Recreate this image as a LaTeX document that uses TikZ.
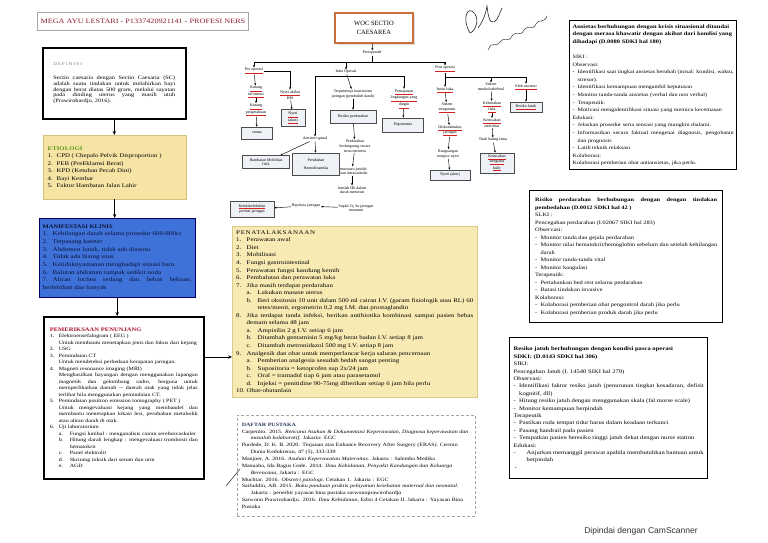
\documentclass[tikz,border=0pt]{standalone}
\usepackage{fontspec}
\setmainfont{Liberation Serif}
\setsansfont{Liberation Sans}
\newfontfamily\boxfont{Liberation Serif}[FakeStretch=1.22]
\usepackage{xcolor}
\usetikzlibrary{positioning,arrows.meta,calc,shadows}

\definecolor{namered}{HTML}{8E1B2E}
\definecolor{etioyellow}{HTML}{F5E4A4}
\definecolor{etioline}{HTML}{D8C27A}
\definecolor{etiogreen}{HTML}{5E9A1A}
\definecolor{manblue}{HTML}{3F72D8}
\definecolor{mantext}{HTML}{0B1238}
\definecolor{pemred}{HTML}{A8142E}
\definecolor{tatayellow}{HTML}{F7EAB3}
\definecolor{tataline}{HTML}{DCC98C}
\definecolor{wocbrown}{HTML}{C8703C}
\definecolor{wocfill}{HTML}{EEF2F6}
\definecolor{spellred}{HTML}{D42020}
\definecolor{pustakablue}{HTML}{2B3C5C}

\newcommand{\fs}[2]{\fontsize{#1}{#2}\selectfont}
\newcommand{\ru}[1]{\textcolor{spellred}{\underline{\textcolor{black}{#1}}}}
\newlength{\numw}\setlength{\numw}{9pt}
\newlength{\subw}\setlength{\subw}{10pt}
\newcommand{\nitem}[2]{\par\hangindent=\numw\hangafter=1\noindent\makebox[\numw][l]{#1}#2}
\newcommand{\sitem}[2]{\par\hangindent=\dimexpr\numw+\subw\relax\hangafter=1\noindent\hspace*{\numw}\makebox[\subw][l]{#1}#2}
\newcommand{\citem}[1]{\par\hangindent=\numw\hangafter=0\noindent #1}
\newcommand{\refitem}[1]{\par\hangindent=9pt\hangafter=1\noindent #1}
\setlength{\parindent}{0pt}
\hyphenpenalty=10000
\exhyphenpenalty=10000
\tolerance=9999
\emergencystretch=10pt

\begin{document}
\begin{tikzpicture}[x=1pt, y=-1pt,
    wtxt/.style={font=\fs{4}{4.7}, align=center, inner sep=0.6pt},
    wbox/.style={wtxt, draw=gray!60!black, fill=wocfill, line width=0.5pt, inner sep=2pt,
      drop shadow={opacity=0.35, shadow xshift=0.8pt, shadow yshift=-0.8pt}},
    arr/.style={-{Stealth[length=2.4pt, width=2pt]}, line width=0.45pt},
    mainarr/.style={-{Stealth[length=4pt, width=3.4pt]}, line width=0.7pt},
    listbox/.style={anchor=north west, align=justify, inner ysep=2pt},
    sdkibox/.style={listbox, draw=black, line width=1.4pt, fill=white}
  ]
  \path[fill=white] (0,0) rectangle (768,543);
  \useasboundingbox (0,0) rectangle (768,543);

  % left column
  \node[draw=gray!70, line width=0.5pt, anchor=north west, minimum width=191pt, minimum height=18pt,
    text=namered, font=\boxfont\fs{6.7}{8}] (header) at (37,12) {MEGA AYU LESTARI - P1337420921141 - PROFESI NERS};

  \node[listbox, draw=black, line width=1.6pt, fill=white, text width=122pt, inner xsep=10.5pt,
    minimum height=71pt, font=\boxfont\fs{5.2}{5.9}] (definisi) at (42,47) {%
    {\fs{4.2}{5}\color{black!55}\addfontfeatures{LetterSpace=25}DEFINISI}\par\vspace{8pt}
    Sectio caesaria dengan Sectio Caesaria (SC) adalah suatu tindakan untuk melahirkan bayi\linebreak
    dengan berat diatas 500 gram, melalui sayatan\linebreak pada dinding uterus yang masih utuh\linebreak
    (Prawirohardjo, 2016).};

  \node[listbox, draw=etioline, line width=0.4pt, fill=etioyellow, text width=134pt, inner xsep=4.5pt,
    minimum height=64pt, font=\boxfont\fs{5.6}{7.4}] (etiologi) at (43,135) {%
    \setlength{\numw}{9pt}%
    {\bfseries\color{etiogreen}ETIOLOGI}
    \nitem{1.}{CPD ( Chepalo Pelvik Disproportion )}
    \nitem{2.}{PEB (PreEklamsi Berat)}
    \nitem{3.}{KPD (Ketuban Pecah Dini)}
    \nitem{4.}{Bayi Kembar}
    \nitem{5.}{Faktor Hambatan Jalan Lahir}};

  \node[listbox, draw=blue!40!black, line width=0.4pt, fill=manblue, text=mantext, text width=149pt,
    inner xsep=3.5pt, minimum height=79pt, font=\boxfont\fs{5.8}{7.7}] (manifestasi) at (39,218) {%
    \setlength{\numw}{10pt}%
    {\bfseries\fs{5.4}{7.7}MANIFESTASI KLINIS}
    \nitem{1.}{Kehilangan darah selama prosedur 600-800cc}
    \nitem{2.}{Terpasang kateter}
    \nitem{3.}{Abdomen lunak, tidak ada distensi}
    \nitem{4.}{Tidak ada bising usus}
    \nitem{5.}{Ketidaknyamanan menghadapi situasi baru}
    \nitem{6.}{Balutan abdomen tampak sedikit noda}
    \nitem{7.}{Aliran lochea sedang dan bebas bekuan, berlebihan dan banyak}};

  \node[listbox, draw=black, line width=1.6pt, fill=white, text width=148pt, inner xsep=6pt,
    minimum height=162pt, font=\boxfont\fs{4.9}{6.5}] (penunjang) at (43,316) {%
    \setlength{\numw}{9pt}\setlength{\subw}{11pt}%
    {\bfseries\color{pemred}\fs{5.4}{6.5}PEMERIKSAAN PENUNJANG}
    \nitem{1.}{Elektroensefalogram ( EEG )}
    \citem{Untuk membantu menetapkan jenis dan fokus dari kejang}
    \nitem{2.}{USG}
    \nitem{3.}{Pemindaian CT}
    \citem{Untuk mendeteksi perbedaan kerapatan jaringan.}
    \nitem{4.}{Magneti resonance imaging (MRI)}
    \citem{Menghasilkan bayangan dengan menggunakan lapangan magnetik dan gelombang radio, berguna untuk
      memperlihatkan daerah -- daerah otak yang tidak jelas terlihat bila menggunakan pemindaian CT.}
    \nitem{5.}{Pemindaian positron emission tomography ( PET )}
    \citem{Untuk mengevaluasi kejang yang membandel dan membantu menetapkan lokasi lesi, perubahan
      metabolik atau aliran darah di otak.}
    \nitem{6.}{Uji laboratorium}
    \sitem{a.}{Fungsi lumbal : menganalisis cairan serebrovaskuler}
    \sitem{b.}{Hitung darah lengkap : mengevaluasi trombosit dan hematokrit}
    \sitem{c.}{Panel elektrolit}
    \sitem{d.}{Skrining toksik dari serum dan urin}
    \sitem{e.}{AGD}};

  \draw[mainarr] (definisi.south) -- (definisi.south |- etiologi.north);
  \draw[mainarr] (etiologi.south) -- (etiologi.south |- manifestasi.north);
  \draw[mainarr] (manifestasi.south) -- (manifestasi.south |- penunjang.north);

  % middle column
  \node[listbox, draw=tataline, line width=0.4pt, fill=tatayellow, text width=237pt, inner xsep=4pt,
    minimum height=171pt, font=\boxfont\fs{5.7}{7.55}] (tata) at (232,226) {%
    \setlength{\numw}{10.5pt}\setlength{\subw}{11pt}%
    {\addfontfeatures{LetterSpace=12}PENATALAKSANAAN}
    \nitem{1.}{Perawatan awal}
    \nitem{2.}{Diet}
    \nitem{3.}{Mobilisasi}
    \nitem{4.}{Fungsi gastrointestinal}
    \nitem{5.}{Perawatan fungsi kandung kemih}
    \nitem{6.}{Pembalutan dan perawatan luka}
    \nitem{7.}{Jika masih terdapat perdarahan}
    \sitem{a.}{Lakukan masase uterus}
    \sitem{b.}{Beri oksitosin 10 unit dalam 500 ml cairan I.V. (garam fisiologik atau RL) 60
      tetes/menit, ergometrin 0,2 mg I.M. dan prostaglandin}
    \nitem{8.}{Jika terdapat tanda infeksi, berikan antibiotika kombinasi sampai pasien bebas demam
      selama 48 jam}
    \sitem{a.}{Ampisilin 2 g I.V. setiap 6 jam}
    \sitem{b.}{Ditambah gentamisin 5 mg/kg berat badan I.V. setiap 8 jam}
    \sitem{c.}{Ditambah metronidazol 500 mg I.V. setiap 8 jam}
    \nitem{9.}{Analgesik dan obat untuk memperlancar kerja saluran pencernaan}
    \sitem{a.}{Pemberian analgesia sesudah bedah sangat penting}
    \sitem{b.}{Supositoria = ketoprofen sup 2x/24 jam}
    \sitem{c.}{Oral = tramadol tiap 6 jam atau parasetamol}
    \sitem{d.}{Injeksi = penitidine 90-75mg diberikan setiap 6 jam bila perlu}
    \nitem{10.}{Obat-obatanlain}};

  \draw[mainarr] ([yshift=-41pt]penunjang.north east) -- ([yshift=-41pt]penunjang.north east -| tata.west);

  \node[listbox, align=left, draw=gray!70, densely dashed, line width=0.5pt, fill=white, text width=229pt,
    inner xsep=4.5pt, minimum height=101pt, font=\boxfont\fs{4.9}{6.85}] (pustaka) at (237,415) {%
    {\bfseries\color{pustakablue}DAFTAR PUSTAKA}
    \refitem{Carpenito. 2015. \textit{Rencana Asuhan \& Dokumentasi Keperawatan, Diagnosa keperawatan
      dan masalah kolaboratif}. Jakarta: EGC}
    \refitem{Purdede, D. K. B. 2020. Tinjauan atas Enhance Recovery After Surgery (ERAS). Cermin
      Dunia Kedokteran, 47 (5), 333-339}
    \refitem{Manjoer, A. 2016. \textit{Asuhan Keperawatan Maternitas}. Jakarta : Salemba Medika}
    \refitem{Manuaba, Ida Bagus Gede. 2014. \textit{Ilmu Kebidanan, Penyakit Kandungan dan Keluarga
      Berencana}, Jakarta : EGC}
    \refitem{Muchtar. 2016. \textit{Obstetri patologi}, Cetakan 1. Jakarta : EGC}
    \refitem{Saifuddin, AB. 2015. \textit{Buku panduan praktis pelayanan kesehatan maternal dan neonatal}.
      Jakarta : penerbit yayasan bina pustaka sarwonoprawirohardjo}
    \refitem{Sarwono Prawirohardjo. 2016. \textit{Ilmu Kebidanan}, Edisi 4 Cetakan II. Jakarta : Yayasan Bina
      Pustaka}};

  \coordinate (mark) at (226,486);
  \draw[line width=0.4pt] (mark) -- ++(14,-17);

  % WOC
  \node[draw=wocbrown, line width=1.2pt, fill=white, minimum width=78pt, minimum height=30pt,
    align=center, font=\fs{6.5}{9}, drop shadow={opacity=0.25}] (woc) at (374,28) {WOC SECTIO\\CAESAREA};
  \node[wtxt] (perio) at (372,53) {Perioperatif};
  \coordinate (jl) at (254,62);
  \coordinate (jr) at (445,62);

  \node[wtxt] (pre) at (254,71) {\ru{Pre operasi}};
  \node[wtxt] (kinfo) at (256,92) {\ru{Kurang}\\\ru{informasi}};
  \node[wtxt] (kpeng) at (256,110) {\ru{Kurang}\\\ru{pengetahuan}};
  \node[wbox, minimum width=31pt, minimum height=12pt] (cemas) at (257,133) {cemas};
  \node[wtxt] (nyerihis) at (290,95) {\ru{Nyeri akibat}\\HIS};
  \node[wbox, minimum width=24pt, minimum height=17pt] (nyeri1) at (293,118) {\ru{Nyeri}\\\ru{(akut)}};

  \node[wtxt] (intra) at (346,72) {Intra Operasi};
  \coordinate (ia) at (315,76);
  \coordinate (ib) at (404,76);
  \node[wtxt] (putus) at (353,94) {Terputusnya kontinuitas\\jaringan (pembuluh darah)};
  \node[wbox, minimum width=46pt, minimum height=13pt] (rperd) at (353,116.5) {Resiko perdarahan};
  \node[wtxt] (perd) at (355,146) {Perdarahan\\berlangsung secara\\terus menerus};
  \node[wtxt] (turun) at (352,171) {Penurunan jumlah\\cairan intravaskular};
  \node[wtxt] (hb) at (352,190) {Jumlah Hb dalam\\darah menurun};
  \node[wtxt] (suplai) at (356,208) {Suplai O\textsubscript{2} ke jaringan\\menurun};
  \node[wtxt] (hipoksia) at (306,206) {Hipoksia jaringan};
  \node[wbox, minimum width=44pt, minimum height=16pt] (perfusi) at (252,209) {\ru{Ketidakefektifan}\\perfusi jaringan};
  \node[wtxt] (anestesi) at (315,139) {Anestesi spinal};
  \node[wbox, minimum width=47pt, minimum height=13pt] (hmf) at (266,162) {Hambatan Mobilitas\\fisik};
  \node[wbox, minimum width=47pt, minimum height=22pt] (hemo) at (316,164) {Perubahan\\[3pt]Hemodinamika};
  \node[wtxt] (pemajanan) at (404,99) {\ru{Pemajanan}\\\ru{lingkungan yang}\\\ru{dingin}};
  \node[wbox, minimum width=41pt, minimum height=14pt] (hipotermia) at (403,125) {Hipotermia};

  \node[wtxt] (post) at (445,69) {\ru{Post operasi}};
  \coordinate (pl) at (445,77);
  \coordinate (pr) at (526,77);
  \node[wtxt] (insisi) at (445,90) {\ru{Insisi luka}};
  \node[wtxt] (integumen) at (447,108) {Sistem\\\ru{integumen}};
  \node[wtxt] (disk) at (450,131) {\ru{Diskontinuitas}\\\ru{jaringan}};
  \node[wtxt] (rang) at (448,154) {Rangsangan\\reseptor nyeri};
  \node[wbox, minimum width=40pt, minimum height=10pt] (nyeri2) at (450,175) {Nyeri (akut)};
  \node[wtxt] (musk) at (491,87) {Sistem\\muskuloskeletal};
  \node[wtxt] (lemah) at (492,107) {\ru{Kelemahan}\\\ru{fisik}};
  \node[wtxt] (mobil) at (492,123) {\ru{Kerusakan}\\mobilitas};
  \node[wtxt] (tirah) at (493,140) {Tirah baring lama};
  \node[wbox, minimum width=34pt, minimum height=20pt] (kulit) at (497,163) {\ru{Kerusakan}\\\ru{integritas}\\\ru{kulit}};
  \node[wtxt] (efek) at (526,87) {\ru{Efek anestesi}};
  \node[wbox, minimum width=32pt, minimum height=10pt] (rjatuh) at (526,107) {\ru{Resiko Jatuh}};

  \draw[arr] (woc) -- (perio);
  \draw[line width=0.45pt] (perio) -- (perio |- jl);
  \draw[line width=0.45pt] (jl) -- (jr);
  \draw[arr] (jl) -- (pre);
  \draw[arr] (intra |- jl) -- (intra);
  \draw[arr] (jr) -- (post);
  \draw[arr] (pre) -- (kinfo);
  \draw[arr] (kinfo) -- (kpeng);
  \draw[arr] (kpeng) -- (cemas);
  \draw[arr] (pre.east) -| (nyerihis.north);
  \draw[arr] (nyerihis) -- (nyeri1);
  \draw[line width=0.45pt] (ia) -- (ib);
  \draw[arr] (ia) -- (anestesi);
  \draw[arr] (ib) -- (pemajanan);
  \draw[arr] (intra) -- (putus);
  \draw[arr] (putus) -- (rperd);
  \draw[arr] (rperd) -- (perd);
  \draw[arr] (perd) -- (turun);
  \draw[arr] (turun) -- (hb);
  \draw[arr] (suplai) -- (hipoksia);
  \draw[arr] (hipoksia) -- (perfusi);
  \draw[arr] (anestesi) -- (hmf);
  \draw[arr] (anestesi) -- (hemo);
  \draw[arr] (pemajanan) -- (hipotermia);
  \draw[line width=0.45pt] (post) -- (pl);
  \draw[line width=0.45pt] (pl) -- (pr);
  \draw[arr] (pl) -- (insisi);
  \draw[arr] (pl -| musk) -- (musk);
  \draw[arr] (pr) -- (efek);
  \draw[arr] (insisi) -- (integumen);
  \draw[arr] (integumen) -- (disk);
  \draw[arr] (disk) -- (rang);
  \draw[arr] (rang) -- (nyeri2);
  \draw[arr] (musk) -- (lemah);
  \draw[arr] (lemah) -- (mobil);
  \draw[arr] (mobil) -- (tirah);
  \draw[arr] (tirah) -- (kulit);
  \draw[arr] (efek) -- (rjatuh);

  % handwritten note
  \draw[line width=0.6pt, line cap=round, black!85] (470,33) .. controls (461,18) and (468,4) .. (475,14)
    .. controls (480,22) and (474,32) .. (470,33);
  \draw[line width=0.6pt, line cap=round, black!85] (478,28) .. controls (484,20) and (486,12) .. (487,6)
    .. controls (488,14) and (489,24) .. (494,22) .. controls (498,20) and (500,12) .. (502,8);
  \draw[line width=0.45pt, line cap=round, black!85] (488,50) .. controls (492,40) and (496,48) .. (500,42)
    .. controls (504,36) and (508,44) .. (512,36) .. controls (516,30) and (520,38) .. (524,30)
    .. controls (528,24) and (532,32) .. (536,24) .. controls (540,18) and (544,24) .. (547,16);

  % right column
  \node[sdkibox, text width=161pt, inner xsep=3pt, minimum height=149pt, font=\boxfont\fs{5}{7.6}] (ansietas) at (569,20) {%
    \setlength{\numw}{5pt}%
    {\raggedright\bfseries\fs{5.3}{7.6}Ansietas berhubungan dengan krisis situasional ditandai dengan merasa khawatir
      dengan akibat dari kondisi yang dihadapi (D.0080 SDKI hal 180)\par}
    \vspace{7.6pt}
    SIKI :\par
    Observasi:
    \nitem{-}{Identifikasi saat tingkat ansietas berubah (misal: kondisi, waktu, stresor).}
    \nitem{-}{Identifikasi kemampuan mengambil keputusan}
    \nitem{-}{Monitor tanda-tanda ansietas (verbal dan non verbal)}
    \nitem{-}{Terapeutik:}
    \nitem{-}{Motivasi mengidentifikasi situasi yang memicu kecemasan}
    \par Edukasi:
    \nitem{-}{Jelaskan prosedur serta sensasi yang mungkin dialami.}
    \nitem{-}{Informasikan secara faktual mengenai diagnosis, pengobatan dan prognosis}
    \nitem{-}{Latih teknik relaksasi}
    \par Kolaborasi:
    \citem{Kolaborasi pemberian obat antiansietas, jika perlu.}};

  \node[sdkibox, text width=182pt, inner xsep=5.5pt, minimum height=132pt, font=\boxfont\fs{5.2}{7.5}] (perdarahan) at (529,190) {%
    \setlength{\numw}{5.5pt}%
    {\bfseries Risiko perdarahan berhubungan dengan dengan tindakan pembedahan (D.0012 SDKI hal 42 )}\par
    SLKI :\par
    Pencegahan perdarahan (I.02067 SIKI hal 283)\par
    Observasi:
    \nitem{-}{Monitor tanda dan gejala perdarahan}
    \nitem{-}{Monitor nilai hematokrit/hemoglobin sebelum dan setelah kehilangan darah}
    \nitem{-}{Monitor tanda-tanda vital}
    \nitem{-}{Monitor koagulasi}
    \par Terapeutik:
    \nitem{-}{Pertahankan bed rest selama perdarahan}
    \nitem{-}{Batasi tindakan invasive}
    \par Kolaborasi:
    \nitem{-}{Kolaborasi pemberian obat pengontrol darah jika perlu}
    \nitem{-}{Kolaborasi pemberian produk darah jika perlu}};

  \node[sdkibox, text width=190pt, inner xsep=4pt, minimum height=141pt, font=\boxfont\fs{5.4}{7.4}] (jatuh) at (509,337) {%
    \setlength{\numw}{5.5pt}%
    {\bfseries Resiko jatuh berhubungan dengan kondisi pasca operasi}\par
    {\bfseries SDKI: (D.0143 SDKI hal 306)}\par
    SIKI:\par
    Pencegahan Jatuh (I. 14540 SIKI hal 279)\par
    Observasi:
    \nitem{-}{Identifikasi faktor resiko jatuh (penurunan tingkat kesadaran, defisit kognitif, dll)}
    \nitem{-}{Hitung resiko jatuh dengan menggunakan skala (fal morse scale)}
    \nitem{-}{Monitor kemampuan berpindah}
    \par Terapeutik
    \nitem{-}{Pastikan roda tempat tidur harus dalam keadaan terkunci}
    \nitem{-}{Pasang handrail pada pasien}
    \nitem{-}{Tempatkan pasien beresiko tinggi jatuh dekat dengan nurse station}
    \par Edukasi:
    {\setlength{\numw}{13pt}\nitem{-}{Anjurkan memanggil perawat apabila membutuhkan bantuan untuk berpindah}\par}
    \nitem{\,-}{}};

  \node[font=\sffamily\fs{8.5}{10}, text=black!80] (scan) at (641,531) {Dipindai dengan CamScanner};
\end{tikzpicture}
\end{document}
